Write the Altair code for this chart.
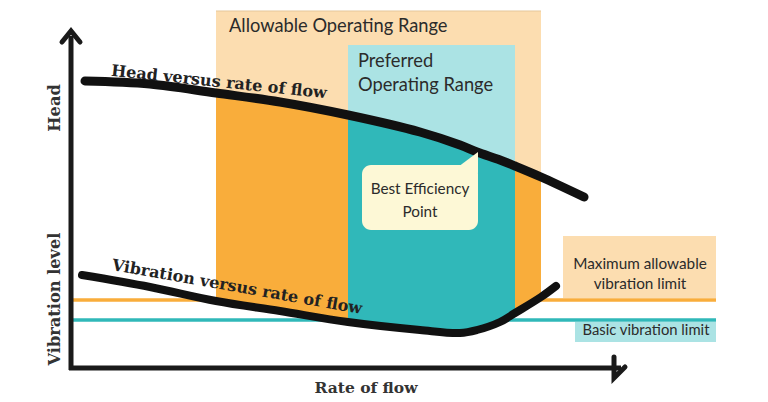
import altair as alt
import pandas as pd

# ---- data (diagram units: x = rate of flow, y = level, screen-oriented) ----
head_x = [85, 150, 216, 280, 348, 420, 460, 477, 500, 515, 541, 584]
head_y = [81, 84, 93, 102, 115, 132, 145, 152, 160, 166, 177, 197]

vib_x = [82, 150, 216, 280, 348, 420, 460, 477, 500, 515, 541, 556]
vib_y = [275, 287, 301, 311, 322, 330, 333, 330, 322, 313, 297, 286]

allow_range = [216, 541]
allow_top = 11
pref_range = [348, 515]
pref_top = 45

limit_x = [72, 716]
max_limit_y = 300
basic_limit_y = 320

max_box = [563, 716, 236, 300]
basic_box = [575, 716, 320, 342]
bep_box = [362, 478, 165, 230]
bep_tail_x = [458, 478]
bep_tail_top = [167, 152]
bep_tail_bot = [167, 173]

axis_y_line = [71, 36, 370]
axis_x_line = [368, 69, 621]

C_PEACH = "#FCDDB0"
C_ORANGE = "#F9AD3B"
C_CYAN = "#ABE3E4"
C_TEAL = "#30B8B9"
C_CREAM = "#FDF8D6"
C_TEXT = "#2b2b2b"

xs = alt.Scale(domain=[8, 760], nice=False, zero=False)
ys = alt.Scale(domain=[8, 394], nice=False, zero=False, reverse=True)

def X(f="x"):
    return alt.X(f"{f}:Q", scale=xs, axis=None)

def Y(f="y"):
    return alt.Y(f"{f}:Q", scale=ys, axis=None)

head = pd.DataFrame({"x": head_x, "y": head_y})
vib = pd.DataFrame({"x": vib_x, "y": vib_y})
hd = dict(zip(head_x, head_y))
vd = dict(zip(vib_x, vib_y))
band_x = [x for x in head_x if x in vd and allow_range[0] <= x <= allow_range[1]]
band = pd.DataFrame({
    "x": band_x,
    "top": [hd[x] for x in band_x],
    "bot": [vd[x] for x in band_x],
    "atop": [allow_top] * len(band_x),
    "ptop": [pref_top] * len(band_x),
})
pref_band = band[(band.x >= pref_range[0]) & (band.x <= pref_range[1])]

INTERP = "catmull-rom"
layers = []

# limit lines (behind the ranges)
lim_max = pd.DataFrame({"x": [limit_x[0]], "x2": [limit_x[1]], "y": [max_limit_y]})
lim_basic = pd.DataFrame({"x": [limit_x[0]], "x2": [limit_x[1]], "y": [basic_limit_y]})
layers.append(alt.Chart(lim_max).mark_rule(strokeWidth=3.5, color=C_ORANGE).encode(x=X(), x2="x2", y=Y()))
layers.append(alt.Chart(lim_basic).mark_rule(strokeWidth=3.5, color=C_TEAL).encode(x=X(), x2="x2", y=Y()))

# limit boxes
box_max = pd.DataFrame({"x": [max_box[0]], "x2": [max_box[1]], "y": [max_box[2]], "y2": [max_box[3] - 2]})
box_basic = pd.DataFrame({"x": [basic_box[0]], "x2": [basic_box[1]], "y": [basic_box[2] + 2], "y2": [basic_box[3]]})
layers.append(alt.Chart(box_max).mark_rect(color=C_PEACH).encode(x=X(), x2="x2", y=Y(), y2="y2"))
layers.append(alt.Chart(box_basic).mark_rect(color=C_CYAN).encode(x=X(), x2="x2", y=Y(), y2="y2"))

# operating ranges: above the head curve (light) and between curves (strong)
layers.append(alt.Chart(band).mark_area(color=C_PEACH, interpolate=INTERP).encode(
    x=X(), y=Y("top"), y2="atop"))
layers.append(alt.Chart(band).mark_area(color=C_ORANGE, interpolate=INTERP).encode(
    x=X(), y=Y("top"), y2="bot"))
layers.append(alt.Chart(pref_band).mark_area(color=C_CYAN, interpolate=INTERP).encode(
    x=X(), y=Y("top"), y2="ptop"))
layers.append(alt.Chart(pref_band).mark_area(color=C_TEAL, interpolate=INTERP).encode(
    x=X(), y=Y("top"), y2="bot"))

# thin frame on top of allowable box
frame = pd.DataFrame({"x": [allow_range[0], allow_range[1]], "y": [allow_top, allow_top]})
layers.append(alt.Chart(frame).mark_line(color="#E6C799", strokeWidth=1.2).encode(x=X(), y=Y()))

# axes
yax = pd.DataFrame({"x": [axis_y_line[0]] * 2, "y": [axis_y_line[1], axis_y_line[2]]})
xax = pd.DataFrame({"x": [axis_x_line[1], axis_x_line[2]], "y": [axis_x_line[0]] * 2})
layers.append(alt.Chart(yax).mark_line(color="#1a1a1a", strokeWidth=5).encode(x=X(), y=Y()))
layers.append(alt.Chart(xax).mark_line(color="#1a1a1a", strokeWidth=5).encode(x=X(), y=Y()))
arrows = pd.DataFrame({
    "x": [62, 71, 80, 614, 625, 614],
    "y": [42, 31, 42, 357, 367, 378],
    "g": ["a", "a", "a", "b", "b", "b"],
})
layers.append(alt.Chart(arrows).mark_line(color="#1a1a1a", strokeWidth=5, strokeCap="round", strokeJoin="miter").encode(
    x=X(), y=Y(), detail="g:N"))

# curves
layers.append(alt.Chart(head).mark_line(color="#111", strokeWidth=9, strokeCap="round", interpolate=INTERP).encode(x=X(), y=Y()))
layers.append(alt.Chart(vib).mark_line(color="#111", strokeWidth=8, strokeCap="round", interpolate=INTERP).encode(x=X(), y=Y()))

# BEP callout
bep = pd.DataFrame({"x": [bep_box[0]], "x2": [bep_box[1]], "y": [bep_box[2]], "y2": [bep_box[3]]})
layers.append(alt.Chart(bep).mark_rect(color=C_CREAM, cornerRadius=9).encode(x=X(), x2="x2", y=Y(), y2="y2"))
tail = pd.DataFrame({"x": bep_tail_x, "y": bep_tail_top, "y2": bep_tail_bot})
layers.append(alt.Chart(tail).mark_area(color=C_CREAM).encode(x=X(), y=Y(), y2="y2"))

# humanist sans labels
sans = pd.DataFrame({
    "x": [229, 358, 358],
    "y": [27, 62, 86],
    "t": ["Allowable Operating Range", "Preferred", "Operating Range"],
})
layers.append(alt.Chart(sans).mark_text(font="Lato", fontSize=18.3, align="left", baseline="middle", color=C_TEXT).encode(
    x=X(), y=Y(), text="t:N"))
sans_c = pd.DataFrame({
    "x": [420, 420, 640, 640],
    "y": [189, 212, 264, 284],
    "t": ["Best Efficiency", "Point", "Maximum allowable", "vibration limit"],
})
layers.append(alt.Chart(sans_c).mark_text(font="Lato", fontSize=15.3, align="center", baseline="middle", color=C_TEXT).encode(
    x=X(), y=Y(), text="t:N"))
basic_t = pd.DataFrame({"x": [646], "y": [331], "t": ["Basic vibration limit"]})
layers.append(alt.Chart(basic_t).mark_text(font="Lato", fontSize=14.8, align="center", baseline="middle", color=C_TEXT).encode(
    x=X(), y=Y(), text="t:N"))

# bold slab labels
curve_lbl = pd.DataFrame({"x": [219], "y": [82], "t": ["Head versus rate of flow"]})
layers.append(alt.Chart(curve_lbl).mark_text(font="DejaVu Serif", fontWeight="bold", fontSize=16, angle=6,
                                            align="center", baseline="middle", color="#222").encode(
    x=X(), y=Y(), text="t:N"))
vib_lbl = pd.DataFrame({"x": [237], "y": [287], "t": ["Vibration versus rate of flow"]})
layers.append(alt.Chart(vib_lbl).mark_text(font="DejaVu Serif", fontWeight="bold", fontSize=16, angle=10,
                                          align="center", baseline="middle", color="#222").encode(
    x=X(), y=Y(), text="t:N"))
ax_lbl = pd.DataFrame({"x": [55, 55], "y": [108, 299], "t": ["Head", "Vibration level"]})
layers.append(alt.Chart(ax_lbl).mark_text(font="DejaVu Serif", fontWeight="bold", fontSize=16.2, angle=270,
                                         align="center", baseline="middle", color="#333").encode(
    x=X(), y=Y(), text="t:N"))
xl = pd.DataFrame({"x": [366], "y": [388], "t": ["Rate of flow"]})
layers.append(alt.Chart(xl).mark_text(font="DejaVu Serif", fontWeight="bold", fontSize=15.5,
                                     align="center", baseline="middle", color="#333").encode(
    x=X(), y=Y(), text="t:N"))

chart = alt.layer(*layers).properties(
    width=752, height=386,
    padding={"left": 0, "top": 0, "right": 0, "bottom": 6},
    autosize=alt.AutoSizeParams(type="none"),
    background="white",
).configure_view(stroke=None)

chart.save("out.html", embed_options={"renderer": "svg", "actions": False})
